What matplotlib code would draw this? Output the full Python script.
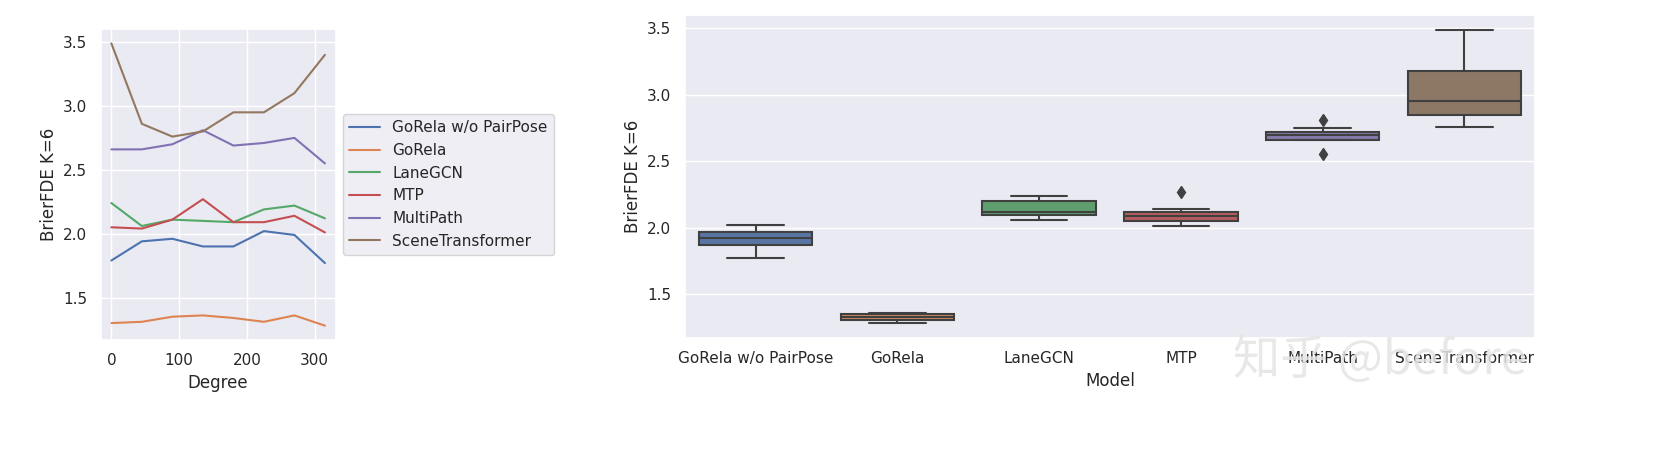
import numpy as np
import pandas as pd
import matplotlib
matplotlib.use("Agg")
import matplotlib.pyplot as plt
import seaborn as sns

degrees = [0, 45, 90, 135, 180, 225, 270, 315]
models = ["GoRela w/o PairPose", "GoRela", "LaneGCN", "MTP", "MultiPath", "SceneTransformer"]
gorela_wo = [1.79, 1.94, 1.96, 1.90, 1.90, 2.02, 1.99, 1.77]
gorela = [1.30, 1.31, 1.35, 1.36, 1.34, 1.31, 1.36, 1.28]
lanegcn = [2.24, 2.06, 2.11, 2.10, 2.09, 2.19, 2.22, 2.12]
mtp = [2.05, 2.04, 2.11, 2.27, 2.09, 2.09, 2.14, 2.01]
multipath = [2.66, 2.66, 2.70, 2.81, 2.69, 2.71, 2.75, 2.55]
scene = [3.49, 2.86, 2.76, 2.80, 2.95, 2.95, 3.10, 3.40]
series = [gorela_wo, gorela, lanegcn, mtp, multipath, scene]

rows = []
for m, vals in zip(models, series):
    for d, v in zip(degrees, vals):
        rows.append({"Model": m, "Degree": d, "BrierFDE K=6": v})
df = pd.DataFrame(rows)

sns.set_theme()
plt.rcParams['font.family'] = ['DejaVu Sans', 'Noto Sans CJK SC']

fig = plt.figure(figsize=(16.78, 4.5), dpi=100)
ax1 = fig.add_axes([0.06, 0.245, 0.14, 0.69])
ax2 = fig.add_axes([0.408, 0.249, 0.507, 0.718])

sns.lineplot(data=df, x="Degree", y="BrierFDE K=6", hue="Model", ax=ax1)
ax1.legend(loc="center left", bbox_to_anchor=(1.0, 0.5), title=None)
ax1.set_xticks([0, 100, 200, 300])

sns.boxplot(data=df, x="Model", y="BrierFDE K=6", hue="Model", ax=ax2,
            palette="deep", saturation=0.75, legend=False,
            linecolor="0.25", linewidth=1.5,
            flierprops=dict(marker="d", markerfacecolor="0.25",
                            markeredgecolor="0.25", markersize=6))

# watermark
fig.text(0.735, 0.17, "知乎 @before", fontsize=34, color="#e4e4e4", alpha=0.85,
         family=['Noto Sans CJK SC', 'DejaVu Sans'])

fig.savefig("out.png", dpi=100)
